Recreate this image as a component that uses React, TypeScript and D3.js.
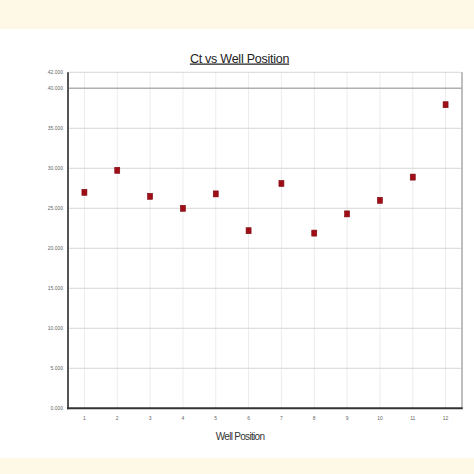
import React, { useRef, useEffect } from 'react';
import * as d3 from 'd3';

const wells = [1, 2, 3, 4, 5, 6, 7, 8, 9, 10, 11, 12];
const ctValues = [27.0, 29.75, 26.5, 25.0, 26.8, 22.2, 28.1, 21.9, 24.3, 26.0, 28.9, 37.95];
const yTicks = [0, 5, 10, 15, 20, 25, 30, 35, 40, 42];

const App: React.FC = () => {
  const svgRef = useRef<SVGSVGElement>(null);

  useEffect(() => {
    if (!svgRef.current) return;
    const svg = d3.select(svgRef.current);
    svg.selectAll('*').remove();

    const width = 474;
    const left = 68, right = 462, top = 72.3, bottom = 408.3;

    // pale yellow bands at top and bottom
    svg.append('rect').attr('x', 0).attr('y', 0).attr('width', width).attr('height', 29).attr('fill', '#fef9e6');
    svg.append('rect').attr('x', 0).attr('y', 458).attr('width', width).attr('height', 16).attr('fill', '#fef9e6');

    const x = d3.scaleLinear().domain([0.5, 12.5]).range([left, right]);
    const y = d3.scaleLinear().domain([0, 42]).range([bottom, top]);

    // vertical grid
    svg.append('g')
      .selectAll('line')
      .data(wells)
      .enter().append('line')
      .attr('x1', d => x(d)).attr('x2', d => x(d))
      .attr('y1', top).attr('y2', bottom)
      .attr('stroke', '#ececec').attr('stroke-width', 1);

    // horizontal grid
    svg.append('g')
      .selectAll('line')
      .data(yTicks.filter(d => d > 0))
      .enter().append('line')
      .attr('x1', left).attr('x2', right)
      .attr('y1', d => y(d)).attr('y2', d => y(d))
      .attr('stroke', d => (d === 40 ? '#b0b0b0' : '#d8d8d8'))
      .attr('stroke-width', d => (d === 40 ? 1.4 : 1));

    // right border
    svg.append('line')
      .attr('x1', right).attr('x2', right).attr('y1', top).attr('y2', bottom)
      .attr('stroke', '#a8a8a8').attr('stroke-width', 1.5);

    // axes lines
    svg.append('line')
      .attr('x1', left).attr('x2', left).attr('y1', top).attr('y2', bottom + 1)
      .attr('stroke', '#555').attr('stroke-width', 2);
    svg.append('line')
      .attr('x1', left - 1).attr('x2', right + 0.75).attr('y1', bottom).attr('y2', bottom)
      .attr('stroke', '#333').attr('stroke-width', 2);

    // y tick labels
    svg.append('g')
      .selectAll('text')
      .data(yTicks)
      .enter().append('text')
      .attr('x', left - 5)
      .attr('y', d => y(d))
      .attr('dy', '0.32em')
      .attr('text-anchor', 'end')
      .style('font-family', 'Liberation Sans, Arial, sans-serif')
      .style('font-size', '5px')
      .style('fill', '#666')
      .text(d => d3.format('.3f')(d));

    // x tick labels
    svg.append('g')
      .selectAll('text')
      .data(wells)
      .enter().append('text')
      .attr('x', d => x(d))
      .attr('y', 419.5)
      .attr('text-anchor', 'middle')
      .style('font-family', 'Liberation Sans, Arial, sans-serif')
      .style('font-size', '5px')
      .style('fill', '#666')
      .text(d => String(d));

    // markers
    svg.append('g')
      .selectAll('rect')
      .data(ctValues)
      .enter().append('rect')
      .attr('x', (d, i) => x(wells[i]) - 2.5)
      .attr('y', d => y(d) - 3)
      .attr('width', 5)
      .attr('height', 6)
      .attr('fill', '#a00d16')
      .attr('stroke', '#7a0a10')
      .attr('stroke-width', 0.6);

    // title
    svg.append('text')
      .attr('x', 239.5)
      .attr('y', 62.5)
      .attr('text-anchor', 'middle')
      .style('font-family', 'Liberation Sans, Arial, sans-serif')
      .style('font-size', '12.5px')
      .style('letter-spacing', '-0.25px')
      .style('fill', '#222')
      .style('text-decoration', 'underline')
      .text('Ct vs Well Position');

    // x axis title
    svg.append('text')
      .attr('x', 240)
      .attr('y', 440)
      .attr('text-anchor', 'middle')
      .style('font-family', 'Liberation Sans, Arial, sans-serif')
      .style('font-size', '10px')
      .style('letter-spacing', '-0.7px')
      .style('fill', '#333')
      .text('Well Position');
  }, []);

  return (
    <div style={{ position: 'absolute', left: 0, top: 0, width: 474, height: 474, background: '#fff' }}>
      <svg ref={svgRef} width={474} height={474} style={{ display: 'block' }}></svg>
    </div>
  );
};

export default App;
